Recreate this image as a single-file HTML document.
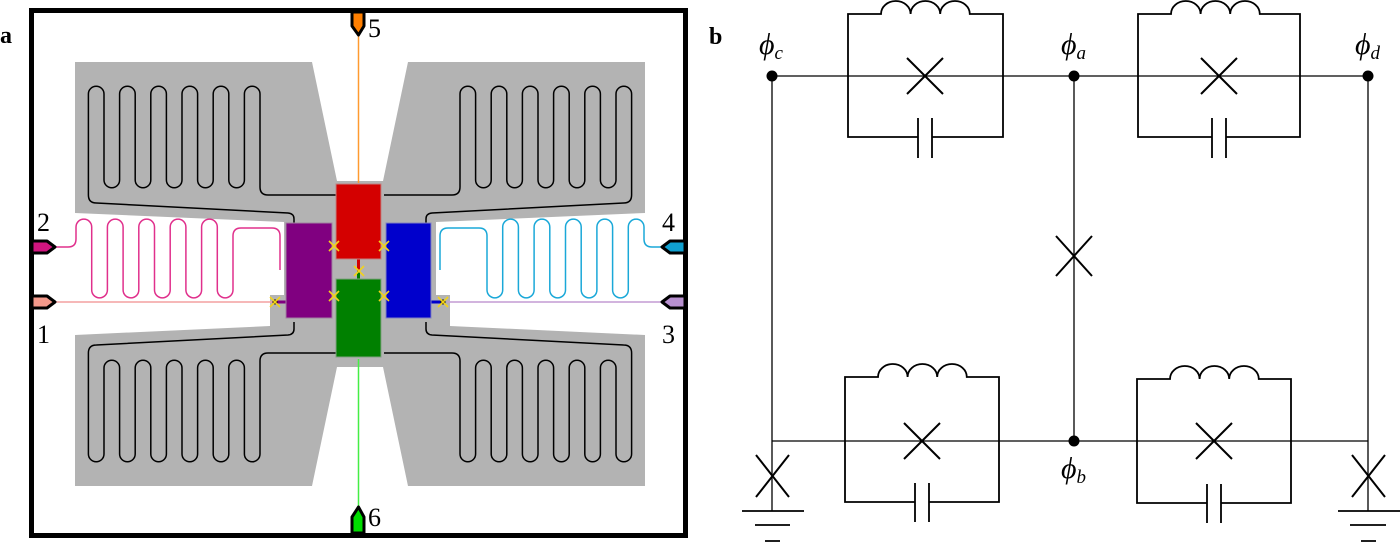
<!DOCTYPE html>
<html><head><meta charset="utf-8"><style>
html,body{margin:0;padding:0;background:#fff;}
svg{display:block;}
</style></head><body>
<svg width="1400" height="542" viewBox="0 0 1400 542" xmlns="http://www.w3.org/2000/svg" font-family="Liberation Serif, serif">
<rect width="1400" height="542" fill="#fff"/>
<!-- PANEL A -->
<text x="0" y="43" font-size="24" font-weight="bold">a</text>
<polygon fill="#b3b3b3" points="75,62 312,62 337,181 360,181 360,367 337,367 312,486 75,486 75,335 270,326 270,295 284,295 284,222 75,213"/>
<g transform="translate(720,0) scale(-1,1)">
<polygon fill="#b3b3b3" points="75,62 312,62 337,181 360,181 360,367 337,367 312,486 75,486 75,335 270,326 270,295 284,295 284,222 75,213"/>
</g>
<g fill="none" stroke="#000" stroke-width="1.5">
<path d="M336,195 H268 Q260,195 260,187 V94 a7.8,7.8 0 0 0 -15.6,0 V180 a7.8,7.8 0 0 1 -15.6,0 V94 a7.8,7.8 0 0 0 -15.6,0 V180 a7.8,7.8 0 0 1 -15.6,0 V94 a7.8,7.8 0 0 0 -15.6,0 V180 a7.8,7.8 0 0 1 -15.6,0 V94 a7.8,7.8 0 0 0 -15.6,0 V180 a7.8,7.8 0 0 1 -15.6,0 V94 a7.8,7.8 0 0 0 -15.6,0 V180 a7.8,7.8 0 0 1 -15.6,0 V94 a7.8,7.8 0 0 0 -15.6,0 V195 Q88.4,203 96.4,203 L288,213 Q294,213.5 294,219 V226"/>
<path transform="translate(720,0) scale(-1,1)" d="M336,195 H268 Q260,195 260,187 V94 a7.8,7.8 0 0 0 -15.6,0 V180 a7.8,7.8 0 0 1 -15.6,0 V94 a7.8,7.8 0 0 0 -15.6,0 V180 a7.8,7.8 0 0 1 -15.6,0 V94 a7.8,7.8 0 0 0 -15.6,0 V180 a7.8,7.8 0 0 1 -15.6,0 V94 a7.8,7.8 0 0 0 -15.6,0 V180 a7.8,7.8 0 0 1 -15.6,0 V94 a7.8,7.8 0 0 0 -15.6,0 V180 a7.8,7.8 0 0 1 -15.6,0 V94 a7.8,7.8 0 0 0 -15.6,0 V195 Q88.4,203 96.4,203 L288,213 Q294,213.5 294,219 V226"/>
<path transform="translate(0,548) scale(1,-1)" d="M336,195 H268 Q260,195 260,187 V94 a7.8,7.8 0 0 0 -15.6,0 V180 a7.8,7.8 0 0 1 -15.6,0 V94 a7.8,7.8 0 0 0 -15.6,0 V180 a7.8,7.8 0 0 1 -15.6,0 V94 a7.8,7.8 0 0 0 -15.6,0 V180 a7.8,7.8 0 0 1 -15.6,0 V94 a7.8,7.8 0 0 0 -15.6,0 V180 a7.8,7.8 0 0 1 -15.6,0 V94 a7.8,7.8 0 0 0 -15.6,0 V180 a7.8,7.8 0 0 1 -15.6,0 V94 a7.8,7.8 0 0 0 -15.6,0 V195 Q88.4,203 96.4,203 L288,213 Q294,213.5 294,219 V226"/>
<path transform="translate(720,548) scale(-1,-1)" d="M336,195 H268 Q260,195 260,187 V94 a7.8,7.8 0 0 0 -15.6,0 V180 a7.8,7.8 0 0 1 -15.6,0 V94 a7.8,7.8 0 0 0 -15.6,0 V180 a7.8,7.8 0 0 1 -15.6,0 V94 a7.8,7.8 0 0 0 -15.6,0 V180 a7.8,7.8 0 0 1 -15.6,0 V94 a7.8,7.8 0 0 0 -15.6,0 V180 a7.8,7.8 0 0 1 -15.6,0 V94 a7.8,7.8 0 0 0 -15.6,0 V180 a7.8,7.8 0 0 1 -15.6,0 V94 a7.8,7.8 0 0 0 -15.6,0 V195 Q88.4,203 96.4,203 L288,213 Q294,213.5 294,219 V226"/>
</g>
<path fill="none" stroke="#e0308c" stroke-width="1.5" d="M55,247 H68 Q76,247 76,239 V227 a7.85,7.85 0 0 1 15.7,0 V290 a7.85,7.85 0 0 0 15.7,0 V227 a7.85,7.85 0 0 1 15.7,0 V290 a7.85,7.85 0 0 0 15.7,0 V227 a7.85,7.85 0 0 1 15.7,0 V290 a7.85,7.85 0 0 0 15.7,0 V227 a7.85,7.85 0 0 1 15.7,0 V290 a7.85,7.85 0 0 0 15.7,0 V227 a7.85,7.85 0 0 1 15.7,0 V290 a7.85,7.85 0 0 0 15.7,0 V236 Q233,228 241,228 H272 Q280,228 280,236 V270"/>
<path fill="none" stroke="#1aa8d8" stroke-width="1.5" transform="translate(720,0) scale(-1,1)" d="M55,247 H68 Q76,247 76,239 V227 a7.85,7.85 0 0 1 15.7,0 V290 a7.85,7.85 0 0 0 15.7,0 V227 a7.85,7.85 0 0 1 15.7,0 V290 a7.85,7.85 0 0 0 15.7,0 V227 a7.85,7.85 0 0 1 15.7,0 V290 a7.85,7.85 0 0 0 15.7,0 V227 a7.85,7.85 0 0 1 15.7,0 V290 a7.85,7.85 0 0 0 15.7,0 V227 a7.85,7.85 0 0 1 15.7,0 V290 a7.85,7.85 0 0 0 15.7,0 V236 Q233,228 241,228 H272 Q280,228 280,236 V270"/>
<line x1="55" y1="302" x2="273" y2="302" stroke="#f4a0a0" stroke-width="1.5"/>
<line x1="447" y1="302" x2="665" y2="302" stroke="#c39bd3" stroke-width="1.5"/>
<line x1="358.5" y1="35" x2="358.5" y2="183" stroke="#ff9a30" stroke-width="1.5"/>
<line x1="358.5" y1="359" x2="358.5" y2="507" stroke="#44ee44" stroke-width="1.5"/>
<line x1="275" y1="302" x2="287" y2="302" stroke="#800080" stroke-width="3"/>
<line x1="430" y1="302" x2="443" y2="302" stroke="#0000cc" stroke-width="3"/>
<line x1="358.5" y1="258" x2="358.5" y2="271" stroke="#d40000" stroke-width="3"/>
<line x1="358.5" y1="271" x2="358.5" y2="280" stroke="#008000" stroke-width="3"/>
<circle cx="275" cy="302" r="2.5" fill="#000"/>
<circle cx="443" cy="302" r="2.5" fill="#000"/>
<rect x="336" y="184" width="45" height="75" fill="#d40000" stroke="#c08080" stroke-width="1"/>
<rect x="336" y="279" width="45" height="78" fill="#008000" stroke="#80a080" stroke-width="1"/>
<rect x="286" y="223" width="46" height="95" fill="#800080" stroke="#a080a0" stroke-width="1"/>
<rect x="386" y="223" width="45" height="95" fill="#0000cc" stroke="#8080c0" stroke-width="1"/>
<g stroke="#f2d21b" stroke-width="1.6">
<path d="M329,241 l10,10 M339,241 l-10,10"/>
<path d="M379,241 l10,10 M389,241 l-10,10"/>
<path d="M329,291 l10,10 M339,291 l-10,10"/>
<path d="M379,291 l10,10 M389,291 l-10,10"/>
<path d="M354,266 l10,10 M364,266 l-10,10"/>
<path d="M270,297 l10,10 M280,297 l-10,10"/>
<path d="M438,297 l10,10 M448,297 l-10,10"/>
</g>
<rect x="31.5" y="10.5" width="654" height="525" fill="none" stroke="#000" stroke-width="5"/>
<g stroke="#000" stroke-width="3" stroke-linejoin="round">
<polygon points="32,241 47,241 55,247 47,253 32,253" fill="#d0157f"/>
<polygon points="32,296 47,296 55,302 47,308 32,308" fill="#f49a8c"/>
<polygon points="685,241 670,241 662,247 670,253 685,253" fill="#10a0d0"/>
<polygon points="685,296 670,296 662,302 670,308 685,308" fill="#b890d0"/>
<polygon points="352,12 364,12 364,26 358.5,35 352,26" fill="#ff7f00"/>
<polygon points="352,533 364,533 364,517 358.5,507 352,517" fill="#00dd00"/>
</g>
<g font-size="26">
<text x="368" y="37">5</text>
<text x="368" y="526">6</text>
<text x="37" y="231">2</text>
<text x="37" y="343">1</text>
<text x="662" y="231">4</text>
<text x="662" y="343">3</text>
</g>

<!-- PANEL B -->
<text x="709" y="44" font-size="24" font-weight="bold">b</text>
<g fill="none" stroke="#000" stroke-width="1.3">
<line x1="772" y1="76" x2="1368" y2="76"/>
<line x1="772" y1="441" x2="1368" y2="441"/>
<line x1="772" y1="76" x2="772" y2="511"/>
<line x1="1368" y1="76" x2="1368" y2="511"/>
<line x1="1074" y1="76" x2="1074" y2="441"/>
</g>
<g fill="none" stroke="#000" stroke-width="1.8">
<path d="M918,137 H848 V14 H881 a14.8,13 0 0 1 29.6,0 a14.8,13 0 0 1 29.6,0 a14.8,13 0 0 1 29.6,0 H1003 V137 H932"/>
<path d="M918,118 V158 M932,118 V158"/>
<path d="M1212,137 H1138 V14 H1171 a14.8,13 0 0 1 29.6,0 a14.8,13 0 0 1 29.6,0 a14.8,13 0 0 1 29.6,0 H1300 V137 H1226"/>
<path d="M1212,118 V158 M1226,118 V158"/>
<path d="M915,502 H845 V377 H878 a14.8,13 0 0 1 29.6,0 a14.8,13 0 0 1 29.6,0 a14.8,13 0 0 1 29.6,0 H999 V502 H929"/>
<path d="M915,483 V522 M929,483 V522"/>
<path d="M1207,503 H1137 V379 H1170 a14.8,13 0 0 1 29.6,0 a14.8,13 0 0 1 29.6,0 a14.8,13 0 0 1 29.6,0 H1291 V503 H1221"/>
<path d="M1207,484 V523 M1221,484 V523"/>
<path d="M742,511 H804 M755,525 H790 M765,541 H780"/>
<path d="M1338,511 H1400 M1350,525 H1386 M1361,541 H1376"/>
</g>
<g stroke="#000" stroke-width="2">
<path d="M907,58 l36,36 M943,58 l-36,36"/>
<path d="M1201,58 l36,36 M1237,58 l-36,36"/>
<path d="M904,423 l36,36 M940,423 l-36,36"/>
<path d="M1196,423 l36,36 M1232,423 l-36,36"/>
<path d="M1056,236 l36,40 M1092,236 l-36,40"/>
<path d="M756,455 l33,42 M789,455 l-33,42"/>
<path d="M1352,455 l33,42 M1385,455 l-33,42"/>
</g>
<g fill="#000">
<circle cx="772" cy="76" r="5.5"/>
<circle cx="1074" cy="76" r="5.5"/>
<circle cx="1368" cy="76" r="5.5"/>
<circle cx="1074" cy="441" r="5.5"/>
</g>
<g font-size="30" font-style="italic">
<text x="759" y="54">ϕ<tspan font-size="19" dy="5">c</tspan></text>
<text x="1061" y="54">ϕ<tspan font-size="19" dy="5">a</tspan></text>
<text x="1355" y="54">ϕ<tspan font-size="19" dy="5">d</tspan></text>
<text x="1061" y="478">ϕ<tspan font-size="19" dy="5">b</tspan></text>
</g>
</svg>
</body></html>
